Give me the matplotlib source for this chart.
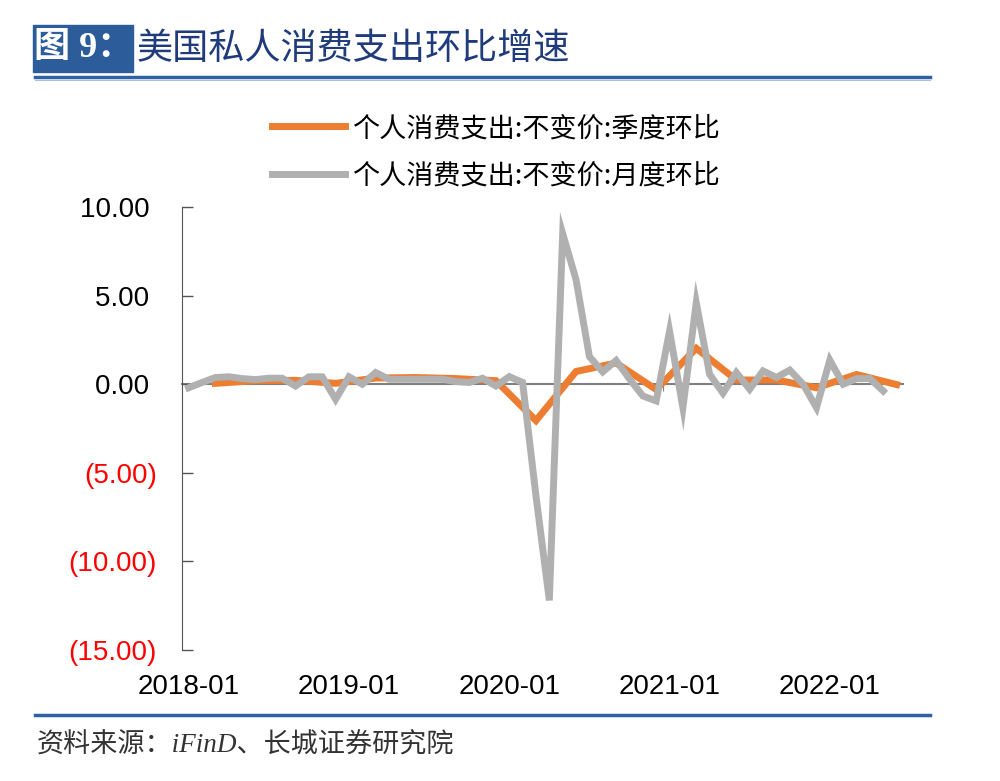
import numpy as np
import pandas as pd
import matplotlib.pyplot as plt
from matplotlib.lines import Line2D
from matplotlib.patches import Rectangle

plt.rcParams['font.family'] = ['Liberation Sans', 'Noto Sans CJK SC', 'DejaVu Sans']

# monthly axis: 2018-01 .. 2022-06
months = pd.date_range('2018-01-01', periods=54, freq='MS')

# 个人消费支出:不变价:月度环比 (%)
monthly = [-0.2, 0.1, 0.38, 0.42, 0.32, 0.26, 0.34, 0.34, -0.1, 0.42, 0.42, -0.85,
           0.42, 0.0, 0.66, 0.28, 0.28, 0.28, 0.28, 0.28, 0.15, 0.1, 0.34, -0.1,
           0.43, 0.1, -6.3, -12.2, 8.5, 5.9, 1.56, 0.7, 1.34, 0.3, -0.66, -0.94,
           3.0, -1.32, 4.6, 0.56, -0.5, 0.66, -0.28, 0.75, 0.38, 0.8, 0.0, -1.32,
           1.36, 0.0, 0.32, 0.32, -0.38, np.nan]

# 个人消费支出:不变价:季度环比 (%), quarter-end months
quarterly = [0.05, 0.2, 0.22, 0.05, 0.35, 0.38, 0.32, 0.2, -2.05,
             0.72, 1.2, -0.3, 2.03, 0.24, 0.24, -0.2, 0.55, -0.02]

ytick_vals = [10, 5, 0, -5, -10, -15]
ytick_labels = ['10.00 ', '5.00 ', '0.00 ', '(5.00)', '(10.00)', '(15.00)']

x = np.arange(len(months))
xq = x[2::3]

fig = plt.figure(figsize=(10, 7.81), dpi=100)
ax = fig.add_axes([0.182, 0.1677, 0.7213, 0.5672])

ax.plot(xq, quarterly, color='#ED7D31', lw=5, solid_joinstyle='miter', zorder=3,
        label='个人消费支出:不变价:季度环比')
ax.plot(x, monthly, color='#B0B0B0', lw=5, solid_joinstyle='miter', zorder=4,
        label='个人消费支出:不变价:月度环比')

ax.set_xlim(-0.5, len(months) - 0.5)
ax.set_ylim(-15, 10)

# y axis
ax.set_yticks(ytick_vals)
ax.set_yticklabels(ytick_labels)
for lab, v in zip(ax.get_yticklabels(), ytick_vals):
    lab.set_color('#FF0000' if v < 0 else 'black')
ax.tick_params(axis='y', direction='in', length=8, width=1, color='#555555',
               labelsize=20, pad=18)
ax.spines['left'].set_color('#555555')
for s in ['top', 'right', 'bottom']:
    ax.spines[s].set_visible(False)

# x labels at the bottom
ax.set_xticks(x[::12])
ax.set_xticklabels(months[::12].strftime('%Y-%m'))
ax.tick_params(axis='x', length=0, labelsize=20, pad=17)

# zero line with year ticks
sec = ax.secondary_xaxis(0.6)
sec.set_xticks(x[11::12] + 0.5)
sec.tick_params(direction='in', length=5, color='#808080', labelbottom=False,
                labeltop=False)
for s in sec.spines.values():
    s.set_color('#808080')
    s.set_linewidth(1.5)

leg = ax.legend(loc='upper left', bbox_to_anchor=(0.272, 0.8528),
                bbox_transform=fig.transFigure, frameon=False,
                prop={'family': ['Noto Sans CJK SC'], 'size': 19.5},
                handlelength=2.7, handletextpad=0.25, labelspacing=0.75,
                borderpad=0, borderaxespad=0)

# header
fig.patches.append(Rectangle((0.033, 0.9078), 0.1, 0.0602, transform=fig.transFigure,
                             color='#2C5C9A', zorder=1))
fig.text(0.084, 0.9375, '图 9：', color='white', fontsize=26, fontweight='bold',
         family=['Liberation Serif', 'Noto Sans CJK SC'], ha='center', va='center')
fig.text(0.137, 0.9375, '美国私人消费支出环比增速', color='#1F3B7B', fontsize=26,
         family=['Noto Sans CJK SC'], ha='left', va='center')
fig.add_artist(Line2D([0.035, 0.93], [0.9015, 0.9015], lw=2.5, color='#2F62A5'))
fig.add_artist(Line2D([0.035, 0.93], [0.8975, 0.8975], lw=0.8, color='#A9C0DE'))

# footer
fig.add_artist(Line2D([0.035, 0.93], [0.0845, 0.0845], lw=2.5, color='#2F62A5'))
fig.text(0.037, 0.045, '资料来源：iFinD、长城证券研究院', color='#333333', fontsize=19.5,
         style='italic', family=['Liberation Serif', 'Noto Sans CJK SC'],
         ha='left', va='center')

plt.savefig('out.png', dpi=100)
